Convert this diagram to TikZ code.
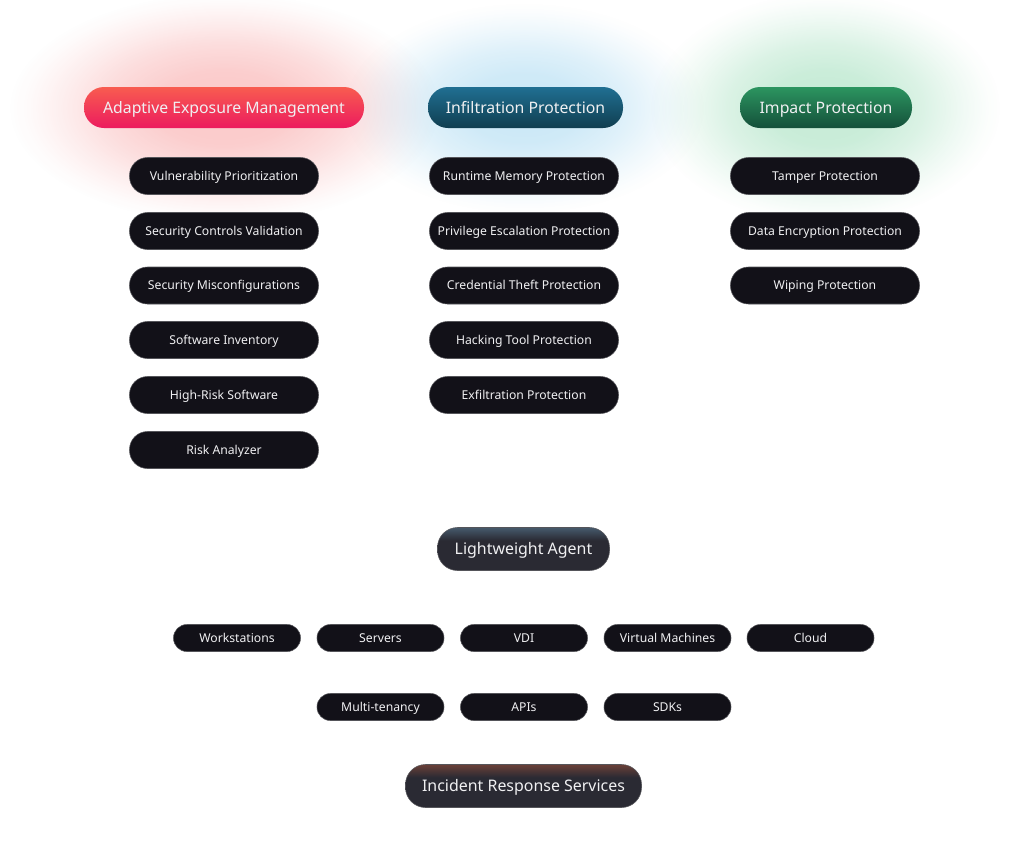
\documentclass[tikz,border=0pt]{standalone}
\usepackage{fontspec}
\setmainfont{Noto Sans}
\usetikzlibrary{fadings}

\definecolor{pillfill}{HTML}{121118}
\definecolor{pilledge}{HTML}{55555A}
\definecolor{pilltext}{HTML}{F0F0F2}
\definecolor{basefill}{HTML}{2A2A33}
\definecolor{agenttop}{HTML}{465A6C}
\definecolor{servicetop}{HTML}{6A4038}
\definecolor{redtop}{HTML}{F85C50}
\definecolor{redbot}{HTML}{EC1B5E}
\definecolor{bluetop}{HTML}{206F92}
\definecolor{bluebot}{HTML}{103E50}
\definecolor{greentop}{HTML}{2C9560}
\definecolor{greenbot}{HTML}{14503A}
\definecolor{redglow}{HTML}{F25050}
\definecolor{blueglow}{HTML}{55B5E5}
\definecolor{greenglow}{HTML}{45C07A}

\pgfdeclareradialshading{glowmask}{\pgfpointorigin}{color(0bp)=(black!69);color(8bp)=(black!72);color(14bp)=(black!81);color(19bp)=(black!91);color(23bp)=(black!98);color(25bp)=(black);color(50bp)=(black)}
\pgfdeclarefading{glowfade}{\pgfuseshading{glowmask}}
\pgfdeclareverticalshading{agentshade}{100bp}{color(0bp)=(basefill);color(50bp)=(basefill);color(60bp)=(basefill);color(75bp)=(agenttop);color(100bp)=(agenttop)}
\pgfdeclareverticalshading{serviceshade}{100bp}{color(0bp)=(basefill);color(50bp)=(basefill);color(60bp)=(basefill);color(75bp)=(servicetop);color(100bp)=(servicetop)}

\tikzstyle{glow}=[path fading=glowfade]
\tikzstyle{head}=[rectangle,rounded corners=15pt,align=center,text=pilltext,font=\fontsize{11.85}{14}\selectfont,minimum height=30.75pt,inner sep=0pt,text height=8.4pt,text depth=0pt]
\tikzstyle{pill}=[rectangle,rounded corners=13.5pt,draw=pilledge,line width=0.4pt,fill=pillfill,text=pilltext,align=center,font=\fontsize{9.15}{12}\selectfont,minimum width=141.75pt,minimum height=27.75pt,inner sep=0pt,text height=6.5pt,text depth=0pt]
\tikzstyle{tag}=[pill,rounded corners=10pt,minimum width=95.25pt,minimum height=20.25pt]
\tikzstyle{base}=[head,rounded corners=15pt,draw=pilledge,line width=0.4pt,minimum height=32.25pt,font=\fontsize{11.95}{14}\selectfont]

\begin{document}
\begin{tikzpicture}[x=0.75pt,y=-0.75pt]
	\useasboundingbox (0,0) rectangle (1024,854);
	\fill[white] (0,0) rectangle (1024,854);

	% Glows
	\fill[glow,redglow] (224,108) ellipse (215 and 115);
	\fill[glow,blueglow] (524,108) ellipse (180 and 105);
	\fill[glow,greenglow] (825,108) ellipse (175 and 115);

	% Headers
	\node[head,minimum width=210pt,top color=redtop,bottom color=redbot] (exposure) at (224,107.5) {Adaptive Exposure Management};
	\node[head,minimum width=146.25pt,top color=bluetop,bottom color=bluebot] (infiltration) at (525.5,107.5) {Infiltration Protection};
	\node[head,minimum width=129pt,top color=greentop,bottom color=greenbot] (impact) at (826,107.5) {Impact Protection};

	% Column 1
	\node[pill] (prioritization) at (224,176) {Vulnerability Prioritization};
	\node[pill] (validation) at (224,231) {Security Controls Validation};
	\node[pill] (misconfig) at (224,285.5) {Security Misconfigurations};
	\node[pill] (inventory) at (224,340) {Software Inventory};
	\node[pill] (highrisk) at (224,395) {High-Risk Software};
	\node[pill] (analyzer) at (224,450) {Risk Analyzer};

	% Column 2
	\node[pill] (memory) at (524,176) {Runtime Memory Protection};
	\node[pill] (privilege) at (524,231) {Privilege Escalation Protection};
	\node[pill] (credential) at (524,285.5) {Credential Theft Protection};
	\node[pill] (hacking) at (524,340) {Hacking Tool Protection};
	\node[pill] (exfiltration) at (524,395) {Exfiltration Protection};

	% Column 3
	\node[pill] (tamper) at (825,176) {Tamper Protection};
	\node[pill] (encryption) at (825,231) {Data Encryption Protection};
	\node[pill] (wiping) at (825,285.5) {Wiping Protection};

	% Agent
	\node[base,minimum width=129pt,shading=agentshade] (agent) at (523.5,549) {Lightweight Agent};

	% Platforms
	\node[tag] (workstations) at (237,638) {Workstations};
	\node[tag] (servers) at (380.5,638) {Servers};
	\node[tag] (vdi) at (524,638) {VDI};
	\node[tag] (vms) at (667.5,638) {Virtual Machines};
	\node[tag] (cloud) at (810.5,638) {Cloud};

	\node[tag] (tenancy) at (380.5,707) {Multi-tenancy};
	\node[tag] (apis) at (524,707) {APIs};
	\node[tag] (sdks) at (667.5,707) {SDKs};

	% Services
	\node[base,minimum width=177pt,shading=serviceshade] (services) at (523.5,786) {Incident Response Services};
\end{tikzpicture}
\end{document}
